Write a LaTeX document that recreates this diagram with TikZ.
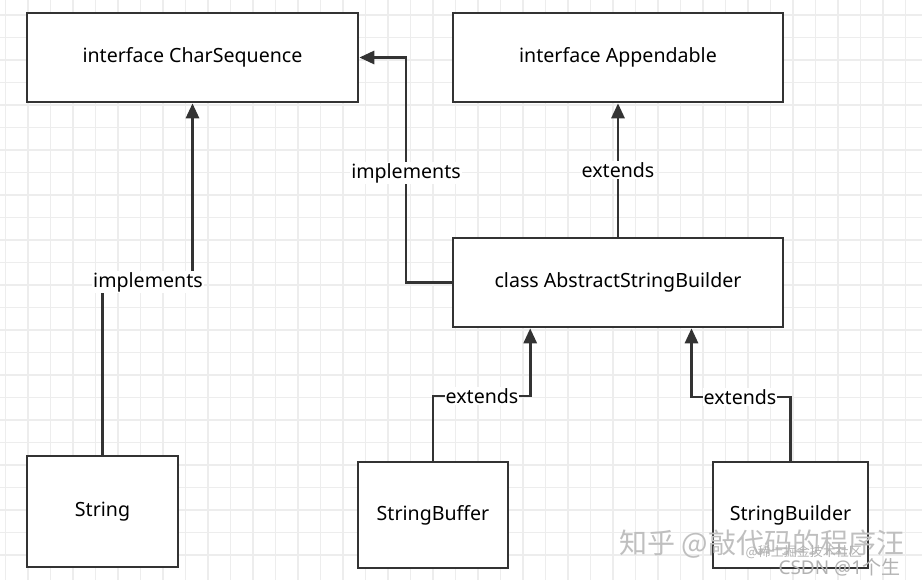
\documentclass[tikz,border=0pt]{standalone}
\usepackage{fontspec}
\setmainfont{Noto Sans}
\newfontfamily\cjk{Noto Sans CJK SC}
\usetikzlibrary{arrows.meta,calc,positioning}

\tikzset{
  box/.style={draw=black!80,line width=2.6pt,fill=white,inner sep=0pt,font=\fontsize{19.6}{22}\selectfont},
  arr/.style={draw=black!80,line width=2.8pt,-{Triangle[length=15pt,width=13pt]}},
  lbl/.style={fill=white,inner sep=1pt,font=\fontsize{19.6}{22}\selectfont}
}

\begin{document}
\begin{tikzpicture}[x=1pt,y=-1pt,line join=miter]
\useasboundingbox (0,0) rectangle (922,580);
\fill[white] (0,0) rectangle (922,580);
% grid
\foreach \i in {0,...,41}{\draw[black!7,line width=1.2pt] ({5.5+22.5*\i},0) -- ({5.5+22.5*\i},580);}
\foreach \j in {0,...,25}{\draw[black!7,line width=1.2pt] (0,{15+22.5*(\j-1)}) -- (922,{15+22.5*(\j-1)});}

% classes
\node[box,minimum width=331pt,minimum height=89pt] (cs) at (192.5,57.5) {interface CharSequence};
\node[box,minimum width=330pt,minimum height=89pt] (app) at (618,57.5) {interface Appendable};
\node[box,minimum width=330pt,minimum height=89pt] (asb) at (618,282.5) {class AbstractStringBuilder};
\node[box,minimum width=151pt,minimum height=111pt] (str) at (102.5,511.5) {String};
\node[box,minimum width=150pt,minimum height=106pt] (sbf) at (433,515) {StringBuffer};
\node[box,minimum width=155pt,minimum height=106pt] (sbd) at (790.5,515) {StringBuilder};

% bends
\coordinate (k1) at (148,282);
\coordinate (k2) at (406,173);
\coordinate (k4) at (482,396);
\coordinate (k5) at (740,397);
\coordinate (a1) at ($(asb.south west)!0.236!(asb.south east)$);
\coordinate (a2) at ($(asb.south west)!0.721!(asb.south east)$);

\draw[arr] (str.north) |- (k1) -| (cs.south);
\draw[arr] (asb.west) -| (k2) |- (cs.east);
\draw[arr] (asb.north) -- (app.south);
\draw[arr] (sbf.north) |- (k4) -| (a1);
\draw[arr] (sbd.north) |- (k5) -| (a2);

\node[lbl] (l1) at (k1) {implements};
\node[lbl] (l2) at (k2) {implements};
\node[lbl] (l3) at ($(asb.north)!0.5!(app.south)$) {extends};
\node[lbl] (l4) at (k4) {extends};
\node[lbl] (l5) at (k5) {extends};

% watermarks
\node[text=black!25,font=\cjk\fontsize{28}{30}\selectfont,anchor=west] (wm1) at (616,544) {知乎 @敲代码的程序汪};
\node[text=black!30,font=\cjk\fontsize{13}{15}\selectfont,anchor=west] (wm2) at (742,552) {@稀土掘金技术社区};
\node[text=black!30,font=\fontsize{19}{21}\selectfont,anchor=west] (wm3) at (775,567) {CSDN @1{\cjk 个生}};
\end{tikzpicture}
\end{document}
